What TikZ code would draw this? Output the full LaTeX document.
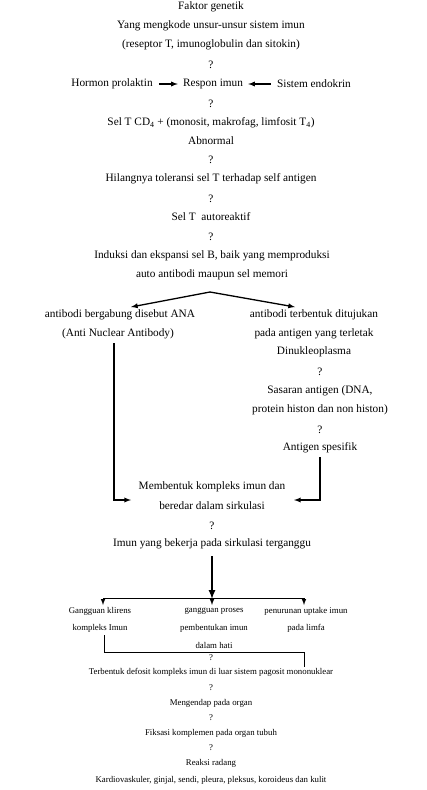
\documentclass[tikz,border=0pt]{standalone}
\usepackage{fontspec}
\setmainfont{Liberation Serif}
\usetikzlibrary{arrows}

\begin{document}
\begin{tikzpicture}[x=1pt, y=-1pt,
	teks/.style={inner sep=0pt, font=\fontsize{11.3}{13}\selectfont},
	kecil/.style={inner sep=0pt, font=\fontsize{8.8}{10}\selectfont},
	panah/.style={-latex, line width=1.3pt},
	garis/.style={line width=0.8pt}]
	\useasboundingbox (0,0) rectangle (427,790);
	%bagian atas
	\node[teks] (faktor) at (211,7) {Faktor genetik};
	\node[teks] (yang) at (211,26) {Yang mengkode unsur-unsur sistem imun};
	\node[teks] (reseptor) at (211,45) {(reseptor T, imunoglobulin dan sitokin)};
	\node[teks] (q1) at (211,65) {?};
	\node[teks] (hormon) at (112,84) {Hormon prolaktin};
	\node[teks] (respon) at (213,84) {Respon imun};
	\node[teks] (endokrin) at (314,84) {Sistem endokrin};
	\node[teks] (q2) at (211,104) {?};
	\node[teks] (cd) at (211,123) {Sel T CD\textsubscript{4} + (monosit, makrofag, limfosit T\textsubscript{4})};
	\node[teks] (abnormal) at (211,141) {Abnormal};
	\node[teks] (q3) at (211,160) {?};
	\node[teks] (hilang) at (211,179) {Hilangnya toleransi sel T terhadap self antigen};
	\node[teks] (q4) at (211,199) {?};
	\node[teks] (autoreaktif) at (211,217) {Sel T\ \ autoreaktif};
	\node[teks] (q5) at (211,237) {?};
	\node[teks] (induksi) at (212,256) {Induksi dan ekspansi sel B, baik yang memproduksi};
	\node[teks] (auto) at (212,275) {auto antibodi maupun sel memori};
	%cabang kiri
	\node[teks] (ana1) at (120,315) {antibodi bergabung disebut ANA};
	\node[teks] (ana2) at (118,334) {(Anti Nuclear Antibody)};
	%cabang kanan
	\node[teks] (kanan1) at (314,315) {antibodi terbentuk ditujukan};
	\node[teks] (kanan2) at (314,334) {pada antigen yang terletak};
	\node[teks] (kanan3) at (314,352) {Dinukleoplasma};
	\node[teks] (q6) at (320,372) {?};
	\node[teks] (sasaran) at (320,391) {Sasaran antigen (DNA,};
	\node[teks] (histon) at (320,410) {protein histon dan non histon)};
	\node[teks] (q7) at (320,430) {?};
	\node[teks] (spesifik) at (320,448) {Antigen spesifik};
	%bagian tengah
	\node[teks] (kompleks1) at (212,487) {Membentuk kompleks imun dan};
	\node[teks] (kompleks2) at (212,506) {beredar dalam sirkulasi};
	\node[teks] (q8) at (212,526) {?};
	\node[teks] (terganggu) at (212,544) {Imun yang bekerja pada sirkulasi terganggu};
	%tiga gangguan
	\node[kecil] (klirens1) at (100,611) {Gangguan klirens};
	\node[kecil] (klirens2) at (100,628) {kompleks Imun};
	\node[kecil] (proses1) at (214,611) {gangguan proses};
	\node[kecil] (proses2) at (214,628) {pembentukan imun};
	\node[kecil] (proses3) at (214,645) {dalam hati};
	\node[kecil] (limfa1) at (306,611) {penurunan uptake imun};
	\node[kecil] (limfa2) at (306,628) {pada limfa};
	%bagian bawah
	\node[kecil] (q9) at (211,658) {?};
	\node[kecil] (defosit) at (211,672) {Terbentuk defosit kompleks imun di luar sistem pagosit mononuklear};
	\node[kecil] (q10) at (211,688) {?};
	\node[kecil] (mengendap) at (211,703) {Mengendap pada organ};
	\node[kecil] (q11) at (211,718) {?};
	\node[kecil] (fiksasi) at (211,733) {Fiksasi komplemen pada organ tubuh};
	\node[kecil] (q12) at (211,748) {?};
	\node[kecil] (radang) at (211,763) {Reaksi radang};
	\node[kecil] (organ) at (211,780) {Kardiovaskuler, ginjal, sendi, pleura, pleksus, koroideus dan kulit};
	%titik bantu
	\coordinate (puncak) at (210,292);
	\coordinate (ujungkiri) at (131,307);
	\coordinate (ujungkanan) at (295,307);
	\coordinate (belokkiri) at (114,500);
	\coordinate (belokkanan) at (320,500);
	\coordinate (masukkiri) at (131,500);
	\coordinate (masukkanan) at (294,500);
	\coordinate (cabang) at (212,598);
	\coordinate (cabangkiri) at (103,598);
	\coordinate (cabangkanan) at (304,598);
	\coordinate (kurungkiri) at (104,652);
	\coordinate (kurungkanan) at (304,652);
	%panah
	\draw[panah] (hormon.east) ++(6,0) -- ([xshift=-5pt]respon.west);
	\draw[panah] (endokrin.west) ++(-6,0) -- ([xshift=5pt]respon.east);
	\draw[panah] (puncak) -- (ujungkiri);
	\draw[panah] (puncak) -- (ujungkanan);
	\draw[panah] (ana2.south -| belokkiri) ++(0,4) |- (masukkiri);
	\draw[panah] (spesifik.south) ++(0,4) |- (masukkanan);
	\draw[-latex, line width=2pt] (terganggu.south) ++(0,7) -- ([yshift=-1pt]cabang);
	\draw[garis] (cabangkiri) -- (cabangkanan);
	\foreach \c in {cabangkiri, cabang, cabangkanan}
		\draw[-latex, line width=1pt] (\c) -- ++(0,7);
	\draw[garis] (klirens2.south -| kurungkiri) ++(0,3) -- (kurungkiri) -- (kurungkanan) -- ([yshift=-15pt]kurungkanan);
\end{tikzpicture}
\end{document}
